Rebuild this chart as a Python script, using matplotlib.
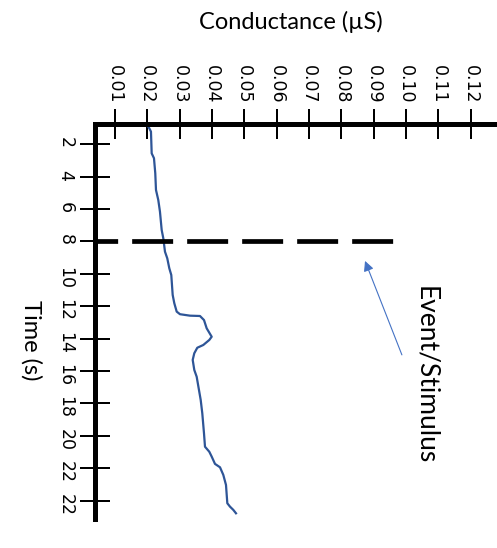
import matplotlib
matplotlib.use("Agg")
import matplotlib.pyplot as plt

# conductance trace (time in s, conductance in uS)
time_s = [0.50, 1.01, 1.22, 2.56, 2.86, 3.79, 4.82, 5.44, 6.16, 7.29, 7.80, 8.63,
          9.04, 9.65, 10.07, 11.30, 11.81, 12.33, 12.49, 12.58, 12.60, 12.85, 13.36,
          13.88, 14.08, 14.39, 14.56, 14.90, 15.31, 15.93, 16.35, 17.17, 17.78, 18.60,
          19.84, 20.67, 20.98, 21.28, 21.73, 21.94, 22.41, 23.03, 24.16, 24.37, 24.57,
          24.78]
conductance = [0.01875, 0.02061, 0.02113, 0.02135, 0.02206, 0.02246, 0.02268, 0.02339,
               0.02391, 0.02444, 0.02494, 0.02546, 0.02617, 0.02679, 0.02741, 0.02784,
               0.02834, 0.02908, 0.03010, 0.03319, 0.03628, 0.03752, 0.03835, 0.03990,
               0.03916, 0.03730, 0.03545, 0.03452, 0.03403, 0.03452, 0.03526, 0.03597,
               0.03650, 0.03699, 0.03752, 0.03783, 0.03916, 0.03990, 0.04092, 0.04247,
               0.04349, 0.04432, 0.04473, 0.04556, 0.04658, 0.04741]

cond_ticks = [0.01, 0.02, 0.03, 0.04, 0.05, 0.06, 0.07, 0.08, 0.09, 0.10, 0.11, 0.12]
cond_labels = ["0.01", "0.02", "0.03", "0.04", "0.05", "0.06", "0.07", "0.08",
               "0.09", "0.10", "0.11", "0.12"]
time_ticks = [2, 4, 6, 8, 10, 12, 14, 16, 18, 20, 22, 24]
time_labels = ["2", "4", "6", "8", "10", "12", "14", "16", "18", "20", "22", "22"]

event_time = 8
event_end = 0.0959
arrow_tail = (0.0987, 15.0)
arrow_tip = (0.0873, 9.2)

plt.rcParams["lines.scale_dashes"] = False
label_font = ["Lato", "DejaVu Sans"]

fig = plt.figure(figsize=(4.97, 5.48), dpi=100)
ax = fig.add_axes([0.1911, 0.0524, 0.805, 0.7219])

ax.plot(conductance, time_s, color="#2E5597", lw=1.6, solid_joinstyle="round")

xmin, xmax = 0.00382, 0.1275
ax.set_xlim(xmin, xmax)
ax.set_ylim(25.15, 0.728)

# event marker
ax.plot([xmin, event_end], [event_time, event_time], color="black", lw=3.4,
        linestyle=(13.2, (29.5, 10.1)), dash_capstyle="butt")

ax.annotate("", xy=arrow_tip, xytext=arrow_tail,
            arrowprops=dict(arrowstyle="-|>", color="#4472C4", lw=0.8,
                            mutation_scale=15, shrinkA=0, shrinkB=0))
ax.text(0.1059, 16.24, "Event/Stimulus", rotation=-90, ha="center", va="center",
        fontsize=19, family=label_font)

ax.xaxis.tick_top()
ax.set_xticks(cond_ticks)
ax.set_xticklabels(cond_labels, rotation=-90, family="DejaVu Sans", fontsize=12.5)
ax.set_yticks(time_ticks)
ax.set_yticklabels(time_labels, rotation=-90, family="DejaVu Sans", fontsize=12.5)
ax.tick_params(direction="inout", length=20.9, width=1.44, pad=4.3, color="black")

for side in ["right", "bottom"]:
    ax.spines[side].set_visible(False)
for side in ["top", "left"]:
    ax.spines[side].set_linewidth(3.6)
    ax.spines[side].set_capstyle("projecting")

fig.text(291 / 497, 1 - 22 / 548, "Conductance (µS)", ha="center", va="center",
         fontsize=17, family=label_font)
fig.text(31 / 497, 1 - 340 / 548, "Time (s)", rotation=-90, ha="center", va="center",
         fontsize=17, family=label_font)

fig.savefig("out.png", dpi=100)
